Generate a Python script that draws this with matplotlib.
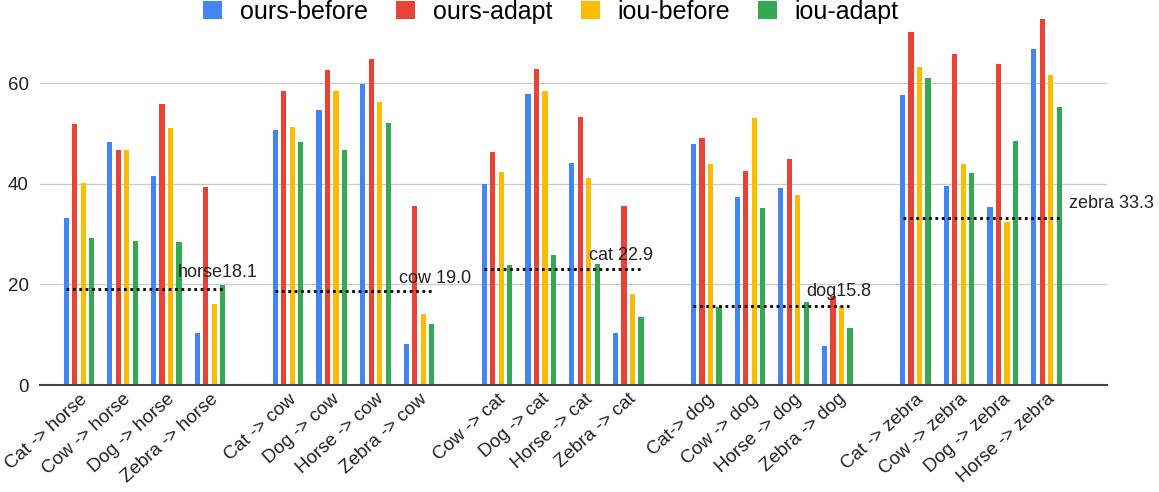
import matplotlib
matplotlib.use("Agg")
import matplotlib.pyplot as plt
from matplotlib.patches import Patch
import numpy as np

plt.rcParams['font.family'] = ['Liberation Sans', 'DejaVu Sans']

groups = ["horse", "cow", "cat", "dog", "zebra"]
categories = [
    ["Cat -> horse", "Cow -> horse", "Dog -> horse", "Zebra -> horse"],
    ["Cat -> cow", "Dog -> cow", "Horse -> cow", "Zebra -> cow"],
    ["Cow -> cat", "Dog -> cat", "Horse -> cat", "Zebra -> cat"],
    ["Cat-> dog", "Cow -> dog", "Horse -> dog", "Zebra -> dog"],
    ["Cat -> zebra", "Cow -> zebra", "Dog -> zebra", "Horse -> zebra"],
]
series_names = ["ours-before", "ours-adapt", "iou-before", "iou-adapt"]
series_colors = ["#4285F4", "#EA4335", "#FBBC04", "#34A853"]

ours_before = [33.2, 48.3, 41.6, 10.3,
               50.7, 54.7, 59.8, 8.2,
               40.0, 57.8, 44.1, 10.4,
               47.9, 37.3, 39.2, 7.7,
               57.6, 39.6, 35.3, 66.7]
ours_adapt = [51.8, 46.7, 55.9, 39.3,
              58.4, 62.7, 64.9, 35.6,
              46.4, 62.9, 53.2, 35.5,
              49.1, 42.5, 44.9, 17.6,
              70.2, 65.9, 63.9, 72.7]
iou_before = [40.2, 46.7, 51.1, 16.1,
              51.3, 58.4, 56.3, 14.2,
              42.4, 58.4, 41.2, 18.1,
              44.0, 53.1, 37.7, 15.7,
              63.3, 44.0, 32.5, 61.6]
iou_adapt = [29.2, 28.7, 28.5, 19.9,
             48.3, 46.7, 52.0, 12.2,
             23.8, 25.8, 24.1, 13.5,
             15.6, 35.1, 16.6, 11.4,
             61.0, 42.2, 48.5, 55.3]

baseline_levels = [19.0, 18.7, 23.0, 15.8, 33.3]
baseline_labels = ["horse18.1", "cow 19.0", "cat 22.9", "dog15.8", "zebra 33.3"]

series = [ours_before, ours_adapt, iou_before, iou_adapt]

# ---- layout ----
W, H = 1159, 492
fig = plt.figure(figsize=(W / 100, H / 100), dpi=100)
ax_left, ax_right = 40, 1107
ax_bottom_px = 385
px_per_unit_y = 5.03
ymax = 74
ax_top_px = ax_bottom_px - ymax * px_per_unit_y
ax = fig.add_axes([ax_left / W, (H - ax_bottom_px) / H,
                   (ax_right - ax_left) / W, (ax_bottom_px - ax_top_px) / H])

period = 4.785
xpos = []
labels = []
for g, cats in enumerate(categories):
    for i, c in enumerate(cats):
        xpos.append(g * period + i)
        labels.append(c)
xpos = np.array(xpos)

offset = 0.1945
width = 0.118
for k, (vals, col, name) in enumerate(zip(series, series_colors, series_names)):
    ax.bar(xpos + (k - 1.5) * offset, vals, width=width, color=col,
           label=name, zorder=3, clip_on=False)

# baselines
text_dx = [-45, -33, -52, -44, 10]   # px offset from line end to text left
text_dy = [12, 8, 9, 10, 10]
for g in range(len(groups)):
    x0 = xpos[g * 4] - 1.5 * offset
    x1 = xpos[g * 4 + 3] + 1.5 * offset
    lvl = baseline_levels[g]
    ax.plot([x0, x1], [lvl, lvl], color="black", lw=2.0,
            linestyle=(0, (1.0, 1.3)), zorder=5, dash_capstyle='butt')
    ax.annotate(baseline_labels[g], xy=(x1, lvl),
                xytext=(text_dx[g] * 0.72, text_dy[g] * 0.72),
                textcoords="offset points", ha="left", va="baseline",
                fontsize=13, color="#222222", zorder=6, annotation_clip=False)

x_left_unit = (ax_left - 78.9) / 43.7
x_right_unit = (ax_right - 78.9) / 43.7
ax.set_xlim(x_left_unit, x_right_unit)
ax.set_ylim(0, ymax)

ax.set_yticks([0, 20, 40, 60])
ax.set_yticklabels(["0", "20", "40", "60"], fontsize=13.5, color="#222222")
ax.yaxis.grid(True, color="#cccccc", lw=1.0, zorder=0)
ax.set_axisbelow(True)
ax.tick_params(axis="y", length=0, pad=8)

ax.set_xticks(xpos)
ax.set_xticklabels(labels, rotation=42, ha="right", va="top",
                   rotation_mode="anchor", fontsize=13.5, color="#222222")
ax.tick_params(axis="x", length=0, pad=4)

for s in ["top", "right", "left"]:
    ax.spines[s].set_visible(False)
ax.spines["bottom"].set_color("#444444")
ax.spines["bottom"].set_linewidth(1.5)
ax.spines["bottom"].set_zorder(4)

handles = [Patch(facecolor=c, edgecolor="none") for c in series_colors]
fig.legend(handles, series_names, loc="center", ncol=4,
           bbox_to_anchor=(551 / W, 1 - 12 / H), frameon=False,
           fontsize=18, handlelength=0.75, handleheight=0.75,
           handletextpad=0.7, columnspacing=1.15, borderpad=0)

fig.savefig("out.png", dpi=100)
